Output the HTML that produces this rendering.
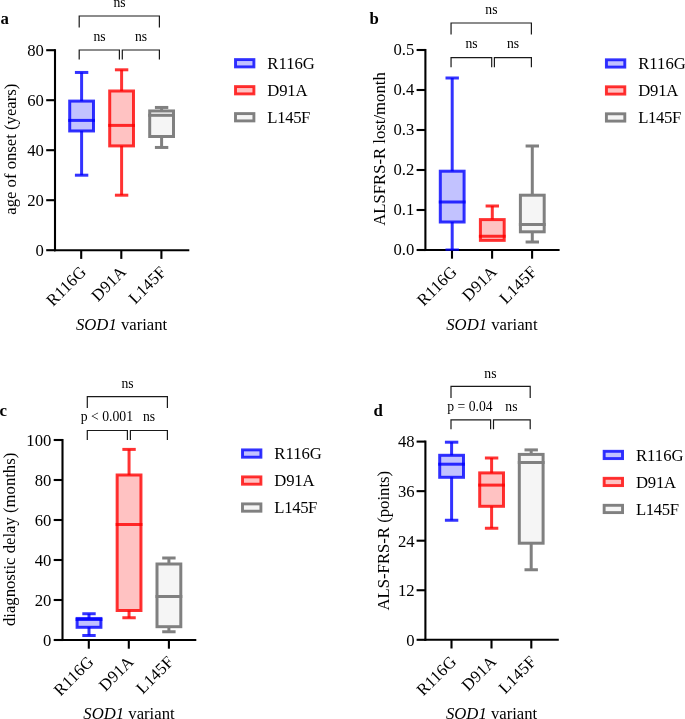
<!DOCTYPE html>
<html><head><meta charset="utf-8"><title>figure</title>
<style>html,body{margin:0;padding:0;background:#fff}svg{display:block}text{font-family:"Liberation Serif",serif;fill:#000}</style>
</head><body>
<svg width="685" height="719" viewBox="0 0 685 719">
<rect width="685" height="719" fill="#fff"/>
<g class="panel-a">
<g stroke="#000" stroke-width="2.1" fill="none">
<line x1="55" y1="49.15" x2="55" y2="251.25"/>
<line x1="53.95" y1="250.2" x2="189.3" y2="250.2"/>
<line x1="46.2" y1="250.2" x2="55" y2="250.2"/>
<line x1="46.2" y1="200.2" x2="55" y2="200.2"/>
<line x1="46.2" y1="150.2" x2="55" y2="150.2"/>
<line x1="46.2" y1="100.2" x2="55" y2="100.2"/>
<line x1="46.2" y1="50.2" x2="55" y2="50.2"/>
<line x1="81.2" y1="250.2" x2="81.2" y2="258.9"/>
<line x1="121.3" y1="250.2" x2="121.3" y2="258.9"/>
<line x1="161.4" y1="250.2" x2="161.4" y2="258.9"/>
</g>
<clipPath id="clipa"><rect x="0" y="0" width="685" height="251"/></clipPath>
<g clip-path="url(#clipa)">
<g stroke="#0000ff" stroke-opacity="0.8" stroke-width="3.0" fill="none">
<line x1="81.6" y1="72.45" x2="81.6" y2="101.1"/>
<line x1="81.6" y1="130.95" x2="81.6" y2="175.2"/>
<line x1="74.9" y1="72.45" x2="88.3" y2="72.45"/>
<line x1="74.9" y1="175.2" x2="88.3" y2="175.2"/>
<rect x="69.7" y="101.1" width="23.8" height="29.85" fill="#0000ff" fill-opacity="0.24"/>
<line x1="68.2" y1="120.4" x2="95" y2="120.4"/>
</g>
<g stroke="#ff0000" stroke-opacity="0.8" stroke-width="3.0" fill="none">
<line x1="121.6" y1="69.8" x2="121.6" y2="91"/>
<line x1="121.6" y1="145.9" x2="121.6" y2="195.2"/>
<line x1="114.9" y1="69.8" x2="128.3" y2="69.8"/>
<line x1="114.9" y1="195.2" x2="128.3" y2="195.2"/>
<rect x="109.7" y="91" width="23.8" height="54.9" fill="#ff0000" fill-opacity="0.24"/>
<line x1="108.2" y1="125.4" x2="135" y2="125.4"/>
</g>
<g stroke="#808080" stroke-opacity="1" stroke-width="3.0" fill="none">
<line x1="161.6" y1="107.45" x2="161.6" y2="110.95"/>
<line x1="161.6" y1="136.5" x2="161.6" y2="147.45"/>
<line x1="154.9" y1="107.45" x2="168.3" y2="107.45"/>
<line x1="154.9" y1="147.45" x2="168.3" y2="147.45"/>
<rect x="149.7" y="110.95" width="23.8" height="25.55" fill="#000000" fill-opacity="0.04"/>
<line x1="148.2" y1="115.3" x2="175" y2="115.3"/>
</g>
</g>
<text x="43.9" y="255.5" font-size="16.7" text-anchor="end" >0</text>
<text x="43.9" y="205.5" font-size="16.7" text-anchor="end" >20</text>
<text x="43.9" y="155.5" font-size="16.7" text-anchor="end" >40</text>
<text x="43.9" y="105.5" font-size="16.7" text-anchor="end" >60</text>
<text x="43.9" y="55.5" font-size="16.7" text-anchor="end" >80</text>
<text font-size="16.7" text-anchor="end" letter-spacing="0.1" transform="translate(87,273) rotate(-45)">R116G</text>
<text font-size="16.7" text-anchor="end" letter-spacing="0.1" transform="translate(127.1,273) rotate(-45)">D91A</text>
<text font-size="16.7" text-anchor="end" letter-spacing="0.1" transform="translate(167.2,273) rotate(-45)">L145F</text>
<text x="121.6" y="329.7" font-size="16.7" text-anchor="middle"><tspan font-style="italic">SOD1</tspan> variant</text>
<text font-size="16.7" text-anchor="middle" transform="translate(16,149.2) rotate(-90)">age of onset (years)</text>
<text x="0.4" y="24.3" font-size="16.8" text-anchor="start" font-weight="bold">a</text>
<g stroke="#1a1a1a" stroke-width="1.2" fill="none">
<path d="M79.2,27.5 V16 H159.4 V27.5"/>
<path d="M79.2,59.5 V50 H119.4 V59.5"/>
<path d="M122.3,59.5 V50 H159.4 V59.5"/>
</g>
<text x="119.5" y="6.7" font-size="13.7" text-anchor="middle" >ns</text>
<text x="99.5" y="41.1" font-size="13.7" text-anchor="middle" >ns</text>
<text x="141.05" y="41.1" font-size="13.7" text-anchor="middle" >ns</text>
<rect x="235.5" y="59.6" width="18.4" height="7.3" fill="#0000ff" fill-opacity="0.24" stroke="#0000ff" stroke-opacity="0.8" stroke-width="2.9"/>
<text x="267.3" y="68.8" font-size="16.7" text-anchor="start" letter-spacing="0">R116G</text>
<rect x="235.5" y="86.6" width="18.4" height="7.3" fill="#ff0000" fill-opacity="0.24" stroke="#ff0000" stroke-opacity="0.8" stroke-width="2.9"/>
<text x="267.3" y="95.8" font-size="16.7" text-anchor="start" letter-spacing="-0.2">D91A</text>
<rect x="235.5" y="113.6" width="18.4" height="7.3" fill="#000000" fill-opacity="0.04" stroke="#808080" stroke-opacity="1" stroke-width="2.9"/>
<text x="267.3" y="122.8" font-size="16.7" text-anchor="start" letter-spacing="-0.35">L145F</text>
</g>
<g class="panel-b">
<g stroke="#000" stroke-width="2.1" fill="none">
<line x1="425.4" y1="48.95" x2="425.4" y2="251.05"/>
<line x1="424.35" y1="250" x2="559.6" y2="250"/>
<line x1="416.6" y1="250" x2="425.4" y2="250"/>
<line x1="416.6" y1="210" x2="425.4" y2="210"/>
<line x1="416.6" y1="170" x2="425.4" y2="170"/>
<line x1="416.6" y1="130" x2="425.4" y2="130"/>
<line x1="416.6" y1="90" x2="425.4" y2="90"/>
<line x1="416.6" y1="50" x2="425.4" y2="50"/>
<line x1="452" y1="250" x2="452" y2="258.7"/>
<line x1="492.1" y1="250" x2="492.1" y2="258.7"/>
<line x1="532.1" y1="250" x2="532.1" y2="258.7"/>
</g>
<clipPath id="clipb"><rect x="0" y="0" width="685" height="250.8"/></clipPath>
<g clip-path="url(#clipb)">
<g stroke="#0000ff" stroke-opacity="0.8" stroke-width="3.0" fill="none">
<line x1="452.2" y1="78" x2="452.2" y2="171.2"/>
<line x1="452.2" y1="222" x2="452.2" y2="250"/>
<line x1="445.5" y1="78" x2="458.9" y2="78"/>
<line x1="445.5" y1="250" x2="458.9" y2="250"/>
<rect x="440.3" y="171.2" width="23.8" height="50.8" fill="#0000ff" fill-opacity="0.24"/>
<line x1="438.8" y1="202" x2="465.6" y2="202"/>
</g>
<g stroke="#ff0000" stroke-opacity="0.8" stroke-width="3.0" fill="none">
<line x1="492.3" y1="206" x2="492.3" y2="219.6"/>
<line x1="485.6" y1="206" x2="499" y2="206"/>
<rect x="480.4" y="219.6" width="23.8" height="20.76" fill="#ff0000" fill-opacity="0.24"/>
<line x1="478.9" y1="236.28" x2="505.7" y2="236.28"/>
</g>
<g stroke="#808080" stroke-opacity="1" stroke-width="3.0" fill="none">
<line x1="532.3" y1="146" x2="532.3" y2="195.2"/>
<line x1="532.3" y1="231.8" x2="532.3" y2="242"/>
<line x1="525.6" y1="146" x2="539" y2="146"/>
<line x1="525.6" y1="242" x2="539" y2="242"/>
<rect x="520.4" y="195.2" width="23.8" height="36.6" fill="#000000" fill-opacity="0.04"/>
<line x1="518.9" y1="224.6" x2="545.7" y2="224.6"/>
</g>
</g>
<text x="414.3" y="255.3" font-size="16.7" text-anchor="end" >0.0</text>
<text x="414.3" y="215.3" font-size="16.7" text-anchor="end" >0.1</text>
<text x="414.3" y="175.3" font-size="16.7" text-anchor="end" >0.2</text>
<text x="414.3" y="135.3" font-size="16.7" text-anchor="end" >0.3</text>
<text x="414.3" y="95.3" font-size="16.7" text-anchor="end" >0.4</text>
<text x="414.3" y="55.3" font-size="16.7" text-anchor="end" >0.5</text>
<text font-size="16.7" text-anchor="end" letter-spacing="0.1" transform="translate(457.8,272.8) rotate(-45)">R116G</text>
<text font-size="16.7" text-anchor="end" letter-spacing="0.1" transform="translate(497.9,272.8) rotate(-45)">D91A</text>
<text font-size="16.7" text-anchor="end" letter-spacing="0.1" transform="translate(537.9,272.8) rotate(-45)">L145F</text>
<text x="491.9" y="329.7" font-size="16.7" text-anchor="middle"><tspan font-style="italic">SOD1</tspan> variant</text>
<text font-size="16.7" text-anchor="middle" transform="translate(384.9,149) rotate(-90)">ALSFRS-R lost/month</text>
<text x="369.5" y="24.2" font-size="16.8" text-anchor="start" font-weight="bold">b</text>
<g stroke="#1a1a1a" stroke-width="1.2" fill="none">
<path d="M451.05,34.5 V23 H531.4 V34.5"/>
<path d="M451.05,67.2 V57.7 H491.7 V67.2"/>
<path d="M494.4,67.2 V57.7 H531.4 V67.2"/>
</g>
<text x="491.43" y="13.7" font-size="13.7" text-anchor="middle" >ns</text>
<text x="471.57" y="47.9" font-size="13.7" text-anchor="middle" >ns</text>
<text x="513.1" y="47.9" font-size="13.7" text-anchor="middle" >ns</text>
<rect x="606.4" y="59.8" width="18.4" height="7.3" fill="#0000ff" fill-opacity="0.24" stroke="#0000ff" stroke-opacity="0.8" stroke-width="2.9"/>
<text x="638.2" y="69" font-size="16.7" text-anchor="start" letter-spacing="0">R116G</text>
<rect x="606.4" y="86.8" width="18.4" height="7.3" fill="#ff0000" fill-opacity="0.24" stroke="#ff0000" stroke-opacity="0.8" stroke-width="2.9"/>
<text x="638.2" y="96" font-size="16.7" text-anchor="start" letter-spacing="-0.2">D91A</text>
<rect x="606.4" y="113.8" width="18.4" height="7.3" fill="#000000" fill-opacity="0.04" stroke="#808080" stroke-opacity="1" stroke-width="2.9"/>
<text x="638.2" y="123" font-size="16.7" text-anchor="start" letter-spacing="-0.35">L145F</text>
</g>
<g class="panel-c">
<g stroke="#000" stroke-width="2.1" fill="none">
<line x1="62.5" y1="438.95" x2="62.5" y2="641.05"/>
<line x1="61.45" y1="640" x2="196.3" y2="640"/>
<line x1="53.7" y1="640" x2="62.5" y2="640"/>
<line x1="53.7" y1="600" x2="62.5" y2="600"/>
<line x1="53.7" y1="560" x2="62.5" y2="560"/>
<line x1="53.7" y1="520" x2="62.5" y2="520"/>
<line x1="53.7" y1="480" x2="62.5" y2="480"/>
<line x1="53.7" y1="440" x2="62.5" y2="440"/>
<line x1="88.8" y1="640" x2="88.8" y2="648.7"/>
<line x1="128.8" y1="640" x2="128.8" y2="648.7"/>
<line x1="168.9" y1="640" x2="168.9" y2="648.7"/>
</g>
<clipPath id="clipc"><rect x="0" y="0" width="685" height="640.8"/></clipPath>
<g clip-path="url(#clipc)">
<g stroke="#0000ff" stroke-opacity="0.8" stroke-width="3.0" fill="none">
<line x1="89" y1="613.7" x2="89" y2="618.45"/>
<line x1="89" y1="627.3" x2="89" y2="635.6"/>
<line x1="82.3" y1="613.7" x2="95.7" y2="613.7"/>
<line x1="82.3" y1="635.6" x2="95.7" y2="635.6"/>
<rect x="77.1" y="618.45" width="23.8" height="8.85" fill="#0000ff" fill-opacity="0.24"/>
<line x1="75.6" y1="619.55" x2="102.4" y2="619.55"/>
</g>
<g stroke="#ff0000" stroke-opacity="0.8" stroke-width="3.0" fill="none">
<line x1="129.05" y1="449.4" x2="129.05" y2="475"/>
<line x1="129.05" y1="610.5" x2="129.05" y2="617.7"/>
<line x1="122.35" y1="449.4" x2="135.75" y2="449.4"/>
<line x1="122.35" y1="617.7" x2="135.75" y2="617.7"/>
<rect x="117.15" y="475" width="23.8" height="135.5" fill="#ff0000" fill-opacity="0.24"/>
<line x1="115.65" y1="524.5" x2="142.45" y2="524.5"/>
</g>
<g stroke="#808080" stroke-opacity="1" stroke-width="3.0" fill="none">
<line x1="168.9" y1="557.9" x2="168.9" y2="564"/>
<line x1="168.9" y1="626.7" x2="168.9" y2="631.8"/>
<line x1="162.2" y1="557.9" x2="175.6" y2="557.9"/>
<line x1="162.2" y1="631.8" x2="175.6" y2="631.8"/>
<rect x="157" y="564" width="23.8" height="62.7" fill="#000000" fill-opacity="0.04"/>
<line x1="155.5" y1="596.5" x2="182.3" y2="596.5"/>
</g>
</g>
<text x="51.4" y="645.7" font-size="16.7" text-anchor="end" >0</text>
<text x="51.4" y="605.7" font-size="16.7" text-anchor="end" >20</text>
<text x="51.4" y="565.7" font-size="16.7" text-anchor="end" >40</text>
<text x="51.4" y="525.7" font-size="16.7" text-anchor="end" >60</text>
<text x="51.4" y="485.7" font-size="16.7" text-anchor="end" >80</text>
<text x="51.4" y="445.7" font-size="16.7" text-anchor="end" >100</text>
<text font-size="16.7" text-anchor="end" letter-spacing="0.1" transform="translate(94.6,662.8) rotate(-45)">R116G</text>
<text font-size="16.7" text-anchor="end" letter-spacing="0.1" transform="translate(134.6,662.8) rotate(-45)">D91A</text>
<text font-size="16.7" text-anchor="end" letter-spacing="0.1" transform="translate(174.7,662.8) rotate(-45)">L145F</text>
<text x="129" y="718.7" font-size="16.7" text-anchor="middle"><tspan font-style="italic">SOD1</tspan> variant</text>
<text font-size="16.7" text-anchor="middle" transform="translate(15.3,539.4) rotate(-90)">diagnostic delay (months)</text>
<text x="-0.6" y="416" font-size="16.8" text-anchor="start" font-weight="bold">c</text>
<g stroke="#1a1a1a" stroke-width="1.2" fill="none">
<path d="M87.3,408.1 V396.6 H167.4 V408.1"/>
<path d="M87.3,440 V430.5 H127.4 V440"/>
<path d="M130.4,440 V430.5 H167.4 V440"/>
</g>
<text x="127.55" y="387.7" font-size="13.7" text-anchor="middle" >ns</text>
<text x="106.95" y="420.7" font-size="13.7" text-anchor="middle" >p &lt; 0.001</text>
<text x="149.1" y="420.7" font-size="13.7" text-anchor="middle" >ns</text>
<rect x="242.5" y="449.9" width="18.4" height="7.3" fill="#0000ff" fill-opacity="0.24" stroke="#0000ff" stroke-opacity="0.8" stroke-width="2.9"/>
<text x="274.3" y="459.1" font-size="16.7" text-anchor="start" letter-spacing="0">R116G</text>
<rect x="242.5" y="476.9" width="18.4" height="7.3" fill="#ff0000" fill-opacity="0.24" stroke="#ff0000" stroke-opacity="0.8" stroke-width="2.9"/>
<text x="274.3" y="486.1" font-size="16.7" text-anchor="start" letter-spacing="-0.2">D91A</text>
<rect x="242.5" y="503.9" width="18.4" height="7.3" fill="#000000" fill-opacity="0.04" stroke="#808080" stroke-opacity="1" stroke-width="2.9"/>
<text x="274.3" y="513.1" font-size="16.7" text-anchor="start" letter-spacing="-0.35">L145F</text>
</g>
<g class="panel-d">
<g stroke="#000" stroke-width="2.1" fill="none">
<line x1="425.4" y1="440.55" x2="425.4" y2="640.85"/>
<line x1="424.35" y1="639.8" x2="558.8" y2="639.8"/>
<line x1="416.6" y1="639.8" x2="425.4" y2="639.8"/>
<line x1="416.6" y1="590.25" x2="425.4" y2="590.25"/>
<line x1="416.6" y1="540.7" x2="425.4" y2="540.7"/>
<line x1="416.6" y1="491.15" x2="425.4" y2="491.15"/>
<line x1="416.6" y1="441.6" x2="425.4" y2="441.6"/>
<line x1="451.5" y1="639.8" x2="451.5" y2="648.5"/>
<line x1="491.5" y1="639.8" x2="491.5" y2="648.5"/>
<line x1="531.3" y1="639.8" x2="531.3" y2="648.5"/>
</g>
<clipPath id="clipd"><rect x="0" y="0" width="685" height="640.6"/></clipPath>
<g clip-path="url(#clipd)">
<g stroke="#0000ff" stroke-opacity="0.8" stroke-width="3.0" fill="none">
<line x1="451.6" y1="442.2" x2="451.6" y2="455.3"/>
<line x1="451.6" y1="477.3" x2="451.6" y2="520.2"/>
<line x1="444.9" y1="442.2" x2="458.3" y2="442.2"/>
<line x1="444.9" y1="520.2" x2="458.3" y2="520.2"/>
<rect x="439.7" y="455.3" width="23.8" height="22" fill="#0000ff" fill-opacity="0.24"/>
<line x1="438.2" y1="464.2" x2="465" y2="464.2"/>
</g>
<g stroke="#ff0000" stroke-opacity="0.8" stroke-width="3.0" fill="none">
<line x1="491.6" y1="458" x2="491.6" y2="472.9"/>
<line x1="491.6" y1="506.3" x2="491.6" y2="528.3"/>
<line x1="484.9" y1="458" x2="498.3" y2="458"/>
<line x1="484.9" y1="528.3" x2="498.3" y2="528.3"/>
<rect x="479.7" y="472.9" width="23.8" height="33.4" fill="#ff0000" fill-opacity="0.24"/>
<line x1="478.2" y1="485.1" x2="505" y2="485.1"/>
</g>
<g stroke="#808080" stroke-opacity="1" stroke-width="3.0" fill="none">
<line x1="531.2" y1="449.9" x2="531.2" y2="454.4"/>
<line x1="531.2" y1="543.2" x2="531.2" y2="569.7"/>
<line x1="524.5" y1="449.9" x2="537.9" y2="449.9"/>
<line x1="524.5" y1="569.7" x2="537.9" y2="569.7"/>
<rect x="519.3" y="454.4" width="23.8" height="88.8" fill="#000000" fill-opacity="0.04"/>
<line x1="517.8" y1="462.5" x2="544.6" y2="462.5"/>
</g>
</g>
<text x="414.7" y="645.6" font-size="16.7" text-anchor="end" >0</text>
<text x="414.7" y="596.05" font-size="16.7" text-anchor="end" >12</text>
<text x="414.7" y="546.5" font-size="16.7" text-anchor="end" >24</text>
<text x="414.7" y="496.95" font-size="16.7" text-anchor="end" >36</text>
<text x="414.7" y="447.4" font-size="16.7" text-anchor="end" >48</text>
<text font-size="16.7" text-anchor="end" letter-spacing="0.1" transform="translate(457.3,662.6) rotate(-45)">R116G</text>
<text font-size="16.7" text-anchor="end" letter-spacing="0.1" transform="translate(497.3,662.6) rotate(-45)">D91A</text>
<text font-size="16.7" text-anchor="end" letter-spacing="0.1" transform="translate(537.1,662.6) rotate(-45)">L145F</text>
<text x="491.6" y="718.7" font-size="16.7" text-anchor="middle"><tspan font-style="italic">SOD1</tspan> variant</text>
<text font-size="16.7" text-anchor="middle" transform="translate(388.5,540.7) rotate(-90)">ALS-FRS-R (points)</text>
<text x="373.6" y="415.9" font-size="16.8" text-anchor="start" font-weight="bold">d</text>
<g stroke="#1a1a1a" stroke-width="1.2" fill="none">
<path d="M451,397.9 V386.4 H530.2 V397.9"/>
<path d="M451,429.3 V419.8 H490.6 V429.3"/>
<path d="M493.5,429.3 V419.8 H530.2 V429.3"/>
</g>
<text x="490.4" y="377.7" font-size="13.7" text-anchor="middle" >ns</text>
<text x="470" y="410.8" font-size="13.7" text-anchor="middle" >p = 0.04</text>
<text x="511.45" y="410.8" font-size="13.7" text-anchor="middle" >ns</text>
<rect x="604.15" y="451.3" width="18.4" height="7.3" fill="#0000ff" fill-opacity="0.24" stroke="#0000ff" stroke-opacity="0.8" stroke-width="2.9"/>
<text x="635.95" y="460.5" font-size="16.7" text-anchor="start" letter-spacing="0">R116G</text>
<rect x="604.15" y="478.3" width="18.4" height="7.3" fill="#ff0000" fill-opacity="0.24" stroke="#ff0000" stroke-opacity="0.8" stroke-width="2.9"/>
<text x="635.95" y="487.5" font-size="16.7" text-anchor="start" letter-spacing="-0.2">D91A</text>
<rect x="604.15" y="505.3" width="18.4" height="7.3" fill="#000000" fill-opacity="0.04" stroke="#808080" stroke-opacity="1" stroke-width="2.9"/>
<text x="635.95" y="514.5" font-size="16.7" text-anchor="start" letter-spacing="-0.35">L145F</text>
</g>
</svg>
</body></html>
